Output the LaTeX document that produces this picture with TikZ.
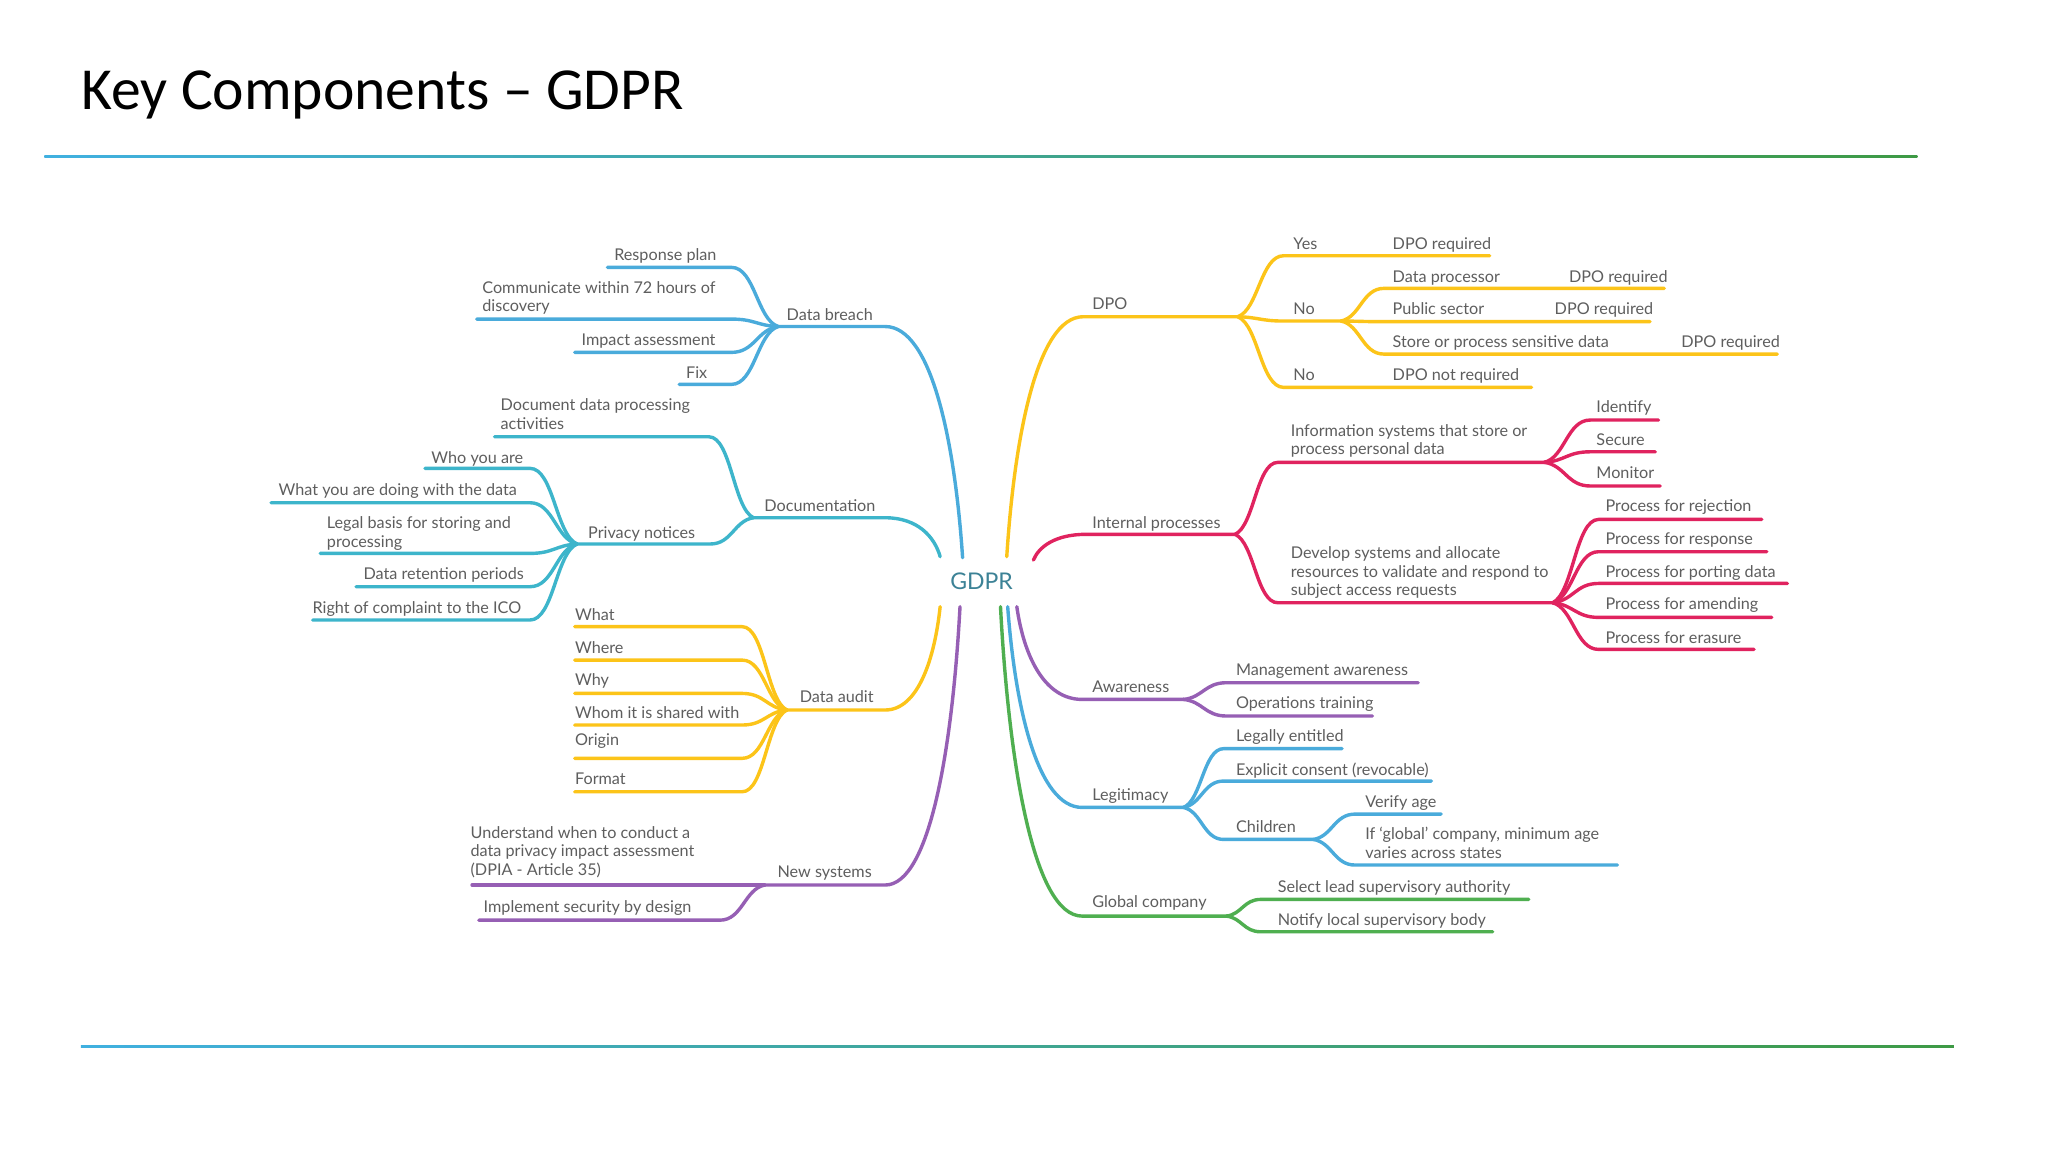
\documentclass[tikz,border=0pt]{standalone}
\usepackage{fontspec}
\setmainfont{Lato}
\newfontfamily\titlefont{Carlito}
\usetikzlibrary{calc}
\definecolor{cblue}{HTML}{4AABDB}
\definecolor{cteal}{HTML}{3DB5CB}
\definecolor{cyel}{HTML}{FCC419}
\definecolor{cpur}{HTML}{965FB4}
\definecolor{cred}{HTML}{E0235F}
\definecolor{cgreen}{HTML}{4FAF50}
\definecolor{ctext}{HTML}{5E5E5E}
\definecolor{cgdpr}{HTML}{3C8296}
\tikzset{
  br/.style={line width=1.7pt, line cap=round},
  lbl/.style={anchor=base west, inner sep=0pt, text=ctext, align=left,
    font=\fontsize{8.1}{9.2}\selectfont},
}
% hub -> curve -> near end of leaf line -> far end
\newcommand\lf[4]{\draw[br,#1] let \p1=(#2), \p2=(#3) in (#2) .. controls ({\x1+0.45*(\x2-\x1)},{\y1+0.12*(\y2-\y1)}) and ({\x1+0.5*(\x2-\x1)},{\y2}) .. (#3) -- (#4);}
% centre -> curve -> inner end of branch line -> hub
\newcommand\ctr[4]{\draw[br,#1] let \p1=(#2), \p2=(#3) in (#2) .. controls ({\x1+0.1*(\x2-\x1)},{\y1+0.5*(\y2-\y1)}) and ({\x2+0.6*(\x1-\x2)},{\y2}) .. (#3) -- (#4);}
\begin{document}
\begin{tikzpicture}[x=0.653pt,y=-0.653pt]
\useasboundingbox (0,0) rectangle (1568,882);
\fill[white] (0,0) rectangle (1568,882);
% title and rules
\node[anchor=base west, inner sep=0pt, font=\titlefont\fontsize{29.8}{34}\selectfont] (title) at (62,84) {Key Components – GDPR};
\shade[left color={rgb,255:red,64;green,176;blue,224}, middle color={rgb,255:red,46;green,140;blue,168}, right color={rgb,255:red,62;green,154;blue,69}] (34,119.4) rectangle (1468,120.8);
\shade[left color={rgb,255:red,64;green,176;blue,224}, middle color={rgb,255:red,46;green,140;blue,168}, right color={rgb,255:red,62;green,154;blue,69}] (62,800.4) rectangle (1496,801.8);

% centre
\node[inner sep=1pt, text=cgdpr, font=\fontsize{11.5}{13}\selectfont] (gdpr) at (751.5,445) {GDPR};

% ---------- coordinates ----------
% Data breach
\coordinate (c-db) at (737,427);
\coordinate (b-db) at (677.7,250);
\coordinate (h-db) at (595.7,250);
\coordinate (rp1) at (560,204.7); \coordinate (rp0) at (465,204.7);
\coordinate (cm1) at (560,244.3); \coordinate (cm0) at (365,244.3);
\coordinate (ia1) at (560,269.8); \coordinate (ia0) at (440,269.8);
\coordinate (fx1) at (560,294.3); \coordinate (fx0) at (520,294.3);
% Documentation
\coordinate (c-doc) at (719.8,426.2);
\coordinate (b-doc) at (677.7,396.4);
\coordinate (h-doc) at (576.8,396.4);
\coordinate (dd1) at (542.7,334.4); \coordinate (dd0) at (378.6,334.4);
\coordinate (pn1) at (543.8,416.5); \coordinate (h-pn) at (441.8,416.5);
\coordinate (wy1) at (405.8,358.6); \coordinate (wy0) at (325.4,358.6);
\coordinate (wd1) at (405.8,384.9); \coordinate (wd0) at (207.5,384.9);
\coordinate (lb1) at (405.8,423.7); \coordinate (lb0) at (245.2,423.7);
\coordinate (dr1) at (405.8,449.2); \coordinate (dr0) at (272.6,449.2);
\coordinate (rc1) at (405.8,474.7); \coordinate (rc0) at (239.4,474.7);
% Data audit
\coordinate (c-da) at (719.8,464.5);
\coordinate (b-da) at (677.7,543.6);
\coordinate (h-da) at (602.4,543.6);
\coordinate (a11) at (568.2,479.8); \coordinate (a10) at (440,479.8);
\coordinate (a21) at (568.2,505.4); \coordinate (a20) at (440,505.4);
\coordinate (a31) at (568.2,530.9); \coordinate (a30) at (440,530.9);
\coordinate (a41) at (568.2,555.1); \coordinate (a40) at (440,555.1);
\coordinate (a51) at (568.2,580.6); \coordinate (a50) at (440,580.6);
\coordinate (a61) at (568.2,606.2); \coordinate (a60) at (440,606.2);
% New systems
\coordinate (c-ns) at (735,464.5);
\coordinate (b-ns) at (677.7,677.6);
\coordinate (h-ns) at (585.4,677.6);
\coordinate (un0) at (361.4,677.6);
\coordinate (is1) at (551.2,704.5); \coordinate (is0) at (366.6,704.5);
% DPO
\coordinate (c-dpo) at (770.8,426.2);
\coordinate (b-dpo) at (829.3,242.5);
\coordinate (h-dpo) at (947.7,242.5);
\coordinate (ys1) at (982.8,195.8); \coordinate (ys0) at (1140.6,195.8);
\coordinate (no1) at (982.8,245.8); \coordinate (h-no) at (1026.7,245.8);
\coordinate (dp1) at (1059.5,220.8); \coordinate (dp0) at (1274.3,220.8);
\coordinate (ps1) at (1059.5,246.3); \coordinate (ps0) at (1263.3,246.3);
\coordinate (sp1) at (1059.5,271.1); \coordinate (sp0) at (1360.7,271.1);
\coordinate (nb1) at (982.8,296.6); \coordinate (nb0) at (1172.6,296.6);
% Internal processes
\coordinate (c-ip) at (791.2,428.8);
\coordinate (b-ip) at (831.6,409.1);
\coordinate (h-ip) at (945.6,409.1);
\coordinate (in1) at (978.4,354); \coordinate (h-in) at (1182.3,354);
\coordinate (id1) at (1217.5,321.6); \coordinate (id0) at (1269.8,321.6);
\coordinate (se1) at (1217.5,345.9); \coordinate (se0) at (1267.3,345.9);
\coordinate (mo1) at (1217.5,372.1); \coordinate (mo0) at (1271,372.1);
\coordinate (dv1) at (978.4,461.5); \coordinate (h-dv) at (1188.8,461.5);
\coordinate (pr1) at (1223.9,397.7); \coordinate (pr0) at (1348.9,397.7);
\coordinate (pp1) at (1223.9,422.4); \coordinate (pp0) at (1352.7,422.4);
\coordinate (po1) at (1223.9,446.7); \coordinate (po0) at (1368.5,446.7);
\coordinate (pa1) at (1223.9,472.7); \coordinate (pa0) at (1356.5,472.7);
\coordinate (pe1) at (1223.9,497.2); \coordinate (pe0) at (1343,497.2);
% Awareness
\coordinate (c-aw) at (778.5,464.5);
\coordinate (b-aw) at (828.6,535.5);
\coordinate (h-aw) at (906.1,535.5);
\coordinate (ma1) at (939,522.7); \coordinate (ma0) at (1085.8,522.7);
\coordinate (ot1) at (939,548.2); \coordinate (ot0) at (1050.7,548.2);
% Legitimacy
\coordinate (c-lg) at (771.5,464.5);
\coordinate (b-lg) at (828.6,618.2);
\coordinate (h-lg) at (906.1,618.2);
\coordinate (le1) at (936.8,573.2); \coordinate (le0) at (1027.5,573.2);
\coordinate (ec1) at (936.8,598); \coordinate (ec0) at (1095.9,598);
\coordinate (ch1) at (936.8,642.7); \coordinate (h-ch) at (1005.6,642.7);
\coordinate (va1) at (1037.5,623.3); \coordinate (va0) at (1103.4,623.3);
\coordinate (ig1) at (1037.5,662.3); \coordinate (ig0) at (1238.3,662.3);
% Global company
\coordinate (c-gc) at (766,464.5);
\coordinate (b-gc) at (828.6,701.4);
\coordinate (h-gc) at (939,701.4);
\coordinate (sl1) at (965.3,688.6); \coordinate (sl0) at (1170.4,688.6);
\coordinate (nl1) at (965.3,713.4); \coordinate (nl0) at (1142.8,713.4);

% ---------- connectors ----------
\ctr{cblue}{c-db}{b-db}{h-db}
\lf{cblue}{h-db}{rp1}{rp0}
\lf{cblue}{h-db}{cm1}{cm0}
\lf{cblue}{h-db}{ia1}{ia0}
\lf{cblue}{h-db}{fx1}{fx0}

\ctr{cteal}{c-doc}{b-doc}{h-doc}
\lf{cteal}{h-doc}{dd1}{dd0}
\lf{cteal}{h-doc}{pn1}{h-pn}
\lf{cteal}{h-pn}{wy1}{wy0}
\lf{cteal}{h-pn}{wd1}{wd0}
\lf{cteal}{h-pn}{lb1}{lb0}
\lf{cteal}{h-pn}{dr1}{dr0}
\lf{cteal}{h-pn}{rc1}{rc0}

\ctr{cyel}{c-da}{b-da}{h-da}
\lf{cyel}{h-da}{a11}{a10}
\lf{cyel}{h-da}{a21}{a20}
\lf{cyel}{h-da}{a31}{a30}
\lf{cyel}{h-da}{a41}{a40}
\lf{cyel}{h-da}{a51}{a50}
\lf{cyel}{h-da}{a61}{a60}

\ctr{cpur}{c-ns}{b-ns}{h-ns}
\draw[br,cpur] (h-ns) -- (un0);
\lf{cpur}{h-ns}{is1}{is0}

\ctr{cyel}{c-dpo}{b-dpo}{h-dpo}
\lf{cyel}{h-dpo}{ys1}{ys0}
\lf{cyel}{h-dpo}{no1}{h-no}
\lf{cyel}{h-no}{dp1}{dp0}
\lf{cyel}{h-no}{ps1}{ps0}
\lf{cyel}{h-no}{sp1}{sp0}
\lf{cyel}{h-dpo}{nb1}{nb0}

\ctr{cred}{c-ip}{b-ip}{h-ip}
\lf{cred}{h-ip}{in1}{h-in}
\lf{cred}{h-in}{id1}{id0}
\lf{cred}{h-in}{se1}{se0}
\lf{cred}{h-in}{mo1}{mo0}
\lf{cred}{h-ip}{dv1}{h-dv}
\lf{cred}{h-dv}{pr1}{pr0}
\lf{cred}{h-dv}{pp1}{pp0}
\lf{cred}{h-dv}{po1}{po0}
\lf{cred}{h-dv}{pa1}{pa0}
\lf{cred}{h-dv}{pe1}{pe0}

\ctr{cpur}{c-aw}{b-aw}{h-aw}
\lf{cpur}{h-aw}{ma1}{ma0}
\lf{cpur}{h-aw}{ot1}{ot0}

\ctr{cgreen}{c-gc}{b-gc}{h-gc}
\lf{cgreen}{h-gc}{sl1}{sl0}
\lf{cgreen}{h-gc}{nl1}{nl0}

\ctr{cblue}{c-lg}{b-lg}{h-lg}
\lf{cblue}{h-lg}{le1}{le0}
\lf{cblue}{h-lg}{ec1}{ec0}
\lf{cblue}{h-lg}{ch1}{h-ch}
\lf{cblue}{h-ch}{va1}{va0}
\lf{cblue}{h-ch}{ig1}{ig0}

% ---------- labels ----------
\node[lbl] (t-db) at (602,245.5) {Data breach};
\node[lbl] (t-rp) at (470,199.5) {Response plan};
\node[lbl] (t-cm) at (369,238.5) {Communicate within 72 hours of\\discovery};
\node[lbl] (t-ia) at (445,264.5) {Impact assessment};
\node[lbl] (t-fx) at (525,289.5) {Fix};
\node[lbl] (t-doc) at (585,392) {Documentation};
\node[lbl] (t-ddp) at (383,328.5) {Document data processing\\activities};
\node[lbl] (t-pn) at (450,412) {Privacy notices};
\node[lbl] (t-who) at (330,355) {Who you are};
\node[lbl] (t-wyd) at (213,379.5) {What you are doing with the data};
\node[lbl] (t-lb) at (250,419) {Legal basis for storing and\\processing};
\node[lbl] (t-drp) at (278,444) {Data retention periods};
\node[lbl] (t-roc) at (239,470) {Right of complaint to the ICO};
\node[lbl] (t-da) at (612,537.5) {Data audit};
\node[lbl] (t-what) at (440,475) {What};
\node[lbl] (t-where) at (440,500) {Where};
\node[lbl] (t-why) at (440,525) {Why};
\node[lbl] (t-whom) at (440,550) {Whom it is shared with};
\node[lbl] (t-orig) at (440,571) {Origin};
\node[lbl] (t-fmt) at (440,600.5) {Format};
\node[lbl] (t-ns) at (595,672) {New systems};
\node[lbl] (t-und) at (360,670) {Understand when to conduct a\\data privacy impact assessment\\(DPIA - Article 35)};
\node[lbl] (t-isd) at (370,699) {Implement security by design};

\node[lbl] (t-dpo) at (836,237) {DPO};
\node[lbl] (t-yes) at (990,191) {Yes};
\node[lbl] (t-r1) at (1066,191) {DPO required};
\node[lbl] (t-no1) at (990,241) {No};
\node[lbl] (t-dp) at (1066,216) {Data processor};
\node[lbl] (t-r2) at (1201,216) {DPO required};
\node[lbl] (t-ps) at (1066,241) {Public sector};
\node[lbl] (t-r3) at (1190,241) {DPO required};
\node[lbl] (t-sp) at (1066,266) {Store or process sensitive data};
\node[lbl] (t-r4) at (1287,266) {DPO required};
\node[lbl] (t-no2) at (990,291) {No};
\node[lbl] (t-nr) at (1066,291) {DPO not required};
\node[lbl] (t-ip) at (836,405) {Internal processes};
\node[lbl] (t-is) at (988,348) {Information systems that store or\\process personal data};
\node[lbl] (t-id) at (1222,316) {Identify};
\node[lbl] (t-sec) at (1222,341) {Secure};
\node[lbl] (t-mon) at (1222,366) {Monitor};
\node[lbl] (t-dev) at (988,456) {Develop systems and allocate\\resources to validate and respond to\\subject access requests};
\node[lbl] (t-rej) at (1229,392) {Process for rejection};
\node[lbl] (t-res) at (1229,417) {Process for response};
\node[lbl] (t-por) at (1229,442) {Process for porting data};
\node[lbl] (t-ame) at (1229,467) {Process for amending};
\node[lbl] (t-era) at (1229,492.5) {Process for erasure};
\node[lbl] (t-aw) at (836,530) {Awareness};
\node[lbl] (t-ma) at (946,517.5) {Management awareness};
\node[lbl] (t-ot) at (946,542.5) {Operations training};
\node[lbl] (t-leg) at (836,613) {Legitimacy};
\node[lbl] (t-le) at (946,567.5) {Legally entitled};
\node[lbl] (t-ec) at (946,593.5) {Explicit consent (revocable)};
\node[lbl] (t-ch) at (946,637.5) {Children};
\node[lbl] (t-va) at (1045,618) {Verify age};
\node[lbl] (t-ig) at (1045,657) {If ‘global’ company, minimum age\\varies across states};
\node[lbl] (t-gc) at (836,695) {Global company};
\node[lbl] (t-sl) at (978,683) {Select lead supervisory authority};
\node[lbl] (t-nl) at (978,708.5) {Notify local supervisory body};
\end{tikzpicture}
\end{document}
